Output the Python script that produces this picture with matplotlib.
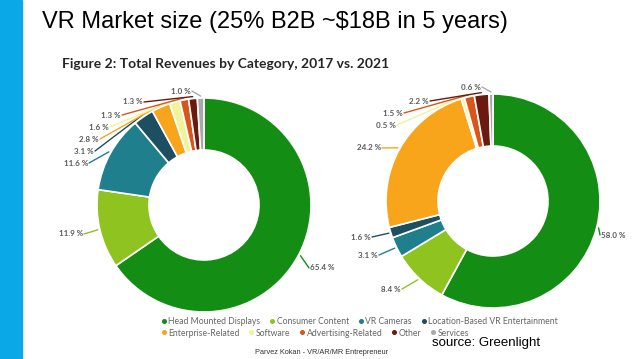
import matplotlib
matplotlib.use("Agg")
import matplotlib.pyplot as plt
import numpy as np
from matplotlib.lines import Line2D
from matplotlib.patches import Rectangle

categories = ["Head Mounted Displays", "Consumer Content", "VR Cameras",
              "Location-Based VR Entertainment", "Enterprise-Related", "Software",
              "Advertising-Related", "Other", "Services"]
share_2017 = [65.4, 11.9, 11.6, 3.1, 2.8, 1.6, 1.3, 1.3, 1.0]
share_2021 = [58.0, 8.4, 3.1, 1.6, 24.2, 0.5, 1.5, 2.2, 0.6]
colors = ["#138d14", "#8fc31f", "#1f7f8c", "#1e4e62", "#f9a51c",
          "#eef39c", "#d9551b", "#6a1a0e", "#a9a9a9"]

# layout (pixels, y from top) -- label text anchor positions
left_center, right_center = (204, 205), (493, 201)
radius, ring = 107, 52
left_labels = [(306, 268, "left"), (87, 234, "right"), (92, 163, "right"),
               (98, 151, "right"), (103, 139, "right"), (113, 127, "right"),
               (125, 115, "right"), (147, 102, "right"), (195, 91, "right")]
right_labels = [(597, 235, "left"), (405, 289, "right"), (382, 255, "right"),
                (375, 237, "right"), (385, 148, "right"), (400, 125, "right"),
                (407, 113, "right"), (433, 101, "right"), (485, 87, "right")]

W, H = 638, 359
fig = plt.figure(figsize=(W / 100, H / 100), dpi=100)
ax = fig.add_axes([0, 0, 1, 1])


def donut(values, center, labels):
    cx, cy = center[0], H - center[1]
    wedges, _ = ax.pie(values, colors=colors, startangle=90, counterclock=False,
                       center=(cx, cy), radius=radius,
                       wedgeprops=dict(width=ring, edgecolor="white", linewidth=1.2))
    for w, v, c, (lx, ly, ha) in zip(wedges, values, colors, labels):
        ang = np.deg2rad((w.theta1 + w.theta2) / 2)
        px = cx + (radius + 2) * np.cos(ang)
        py = cy + (radius + 2) * np.sin(ang)
        tx = lx + (3 if ha == "left" else -3)
        ax.plot([px, tx], [py, H - ly], color=c, lw=1.0, solid_capstyle="round")
        ax.text(lx + (4 if ha == "left" else -4), H - ly, f"{v:.1f} %", ha=ha,
                va="center", fontsize=5.8, color="#5a5a5a", family="Lato",
                fontweight="bold")


donut(share_2017, left_center, left_labels)
donut(share_2021, right_center, right_labels)

ax.set_xlim(0, W)
ax.set_ylim(0, H)
ax.set_aspect("auto")
ax.axis("off")

# slide decoration
ax.add_patch(Rectangle((0, 0), 22, H, color="#0aa8e6", zorder=5))
ax.text(42, H - 22, "VR Market size (25% B2B ~$18B in 5 years)", fontsize=17,
        family="Liberation Sans", color="black", va="center")
ax.text(62, H - 64, "Figure 2: Total Revenues by Category, 2017 vs. 2021",
        fontsize=10, family="Lato", fontweight="bold", color="#262626",
        va="center")

# legend, two rows
handles = [Line2D([], [], marker="o", ls="", ms=2.6, color=c) for c in colors]
rows = [(0, 4, 322), (4, 9, 333)]
for a, b, y in rows:
    leg = fig.legend(handles[a:b], categories[a:b], loc="center left",
                     bbox_to_anchor=(162 / W, 1 - y / H), ncol=b - a,
                     frameon=False, handlelength=0.4, handletextpad=0.3,
                     columnspacing=1.2, borderpad=0, borderaxespad=0,
                     prop={"family": "Lato", "size": 6.2})
    for t in leg.get_texts():
        t.set_color("#666666")

ax.text(432, H - 343, "source: Greenlight", fontsize=9.5,
        family="Liberation Sans", color="black", va="center")
ax.text(255, H - 352, "Parvez Kokan - VR/AR/MR Entrepreneur", fontsize=5.3,
        family="Liberation Sans", color="#333333", va="center")

fig.savefig("out.png", dpi=100)
